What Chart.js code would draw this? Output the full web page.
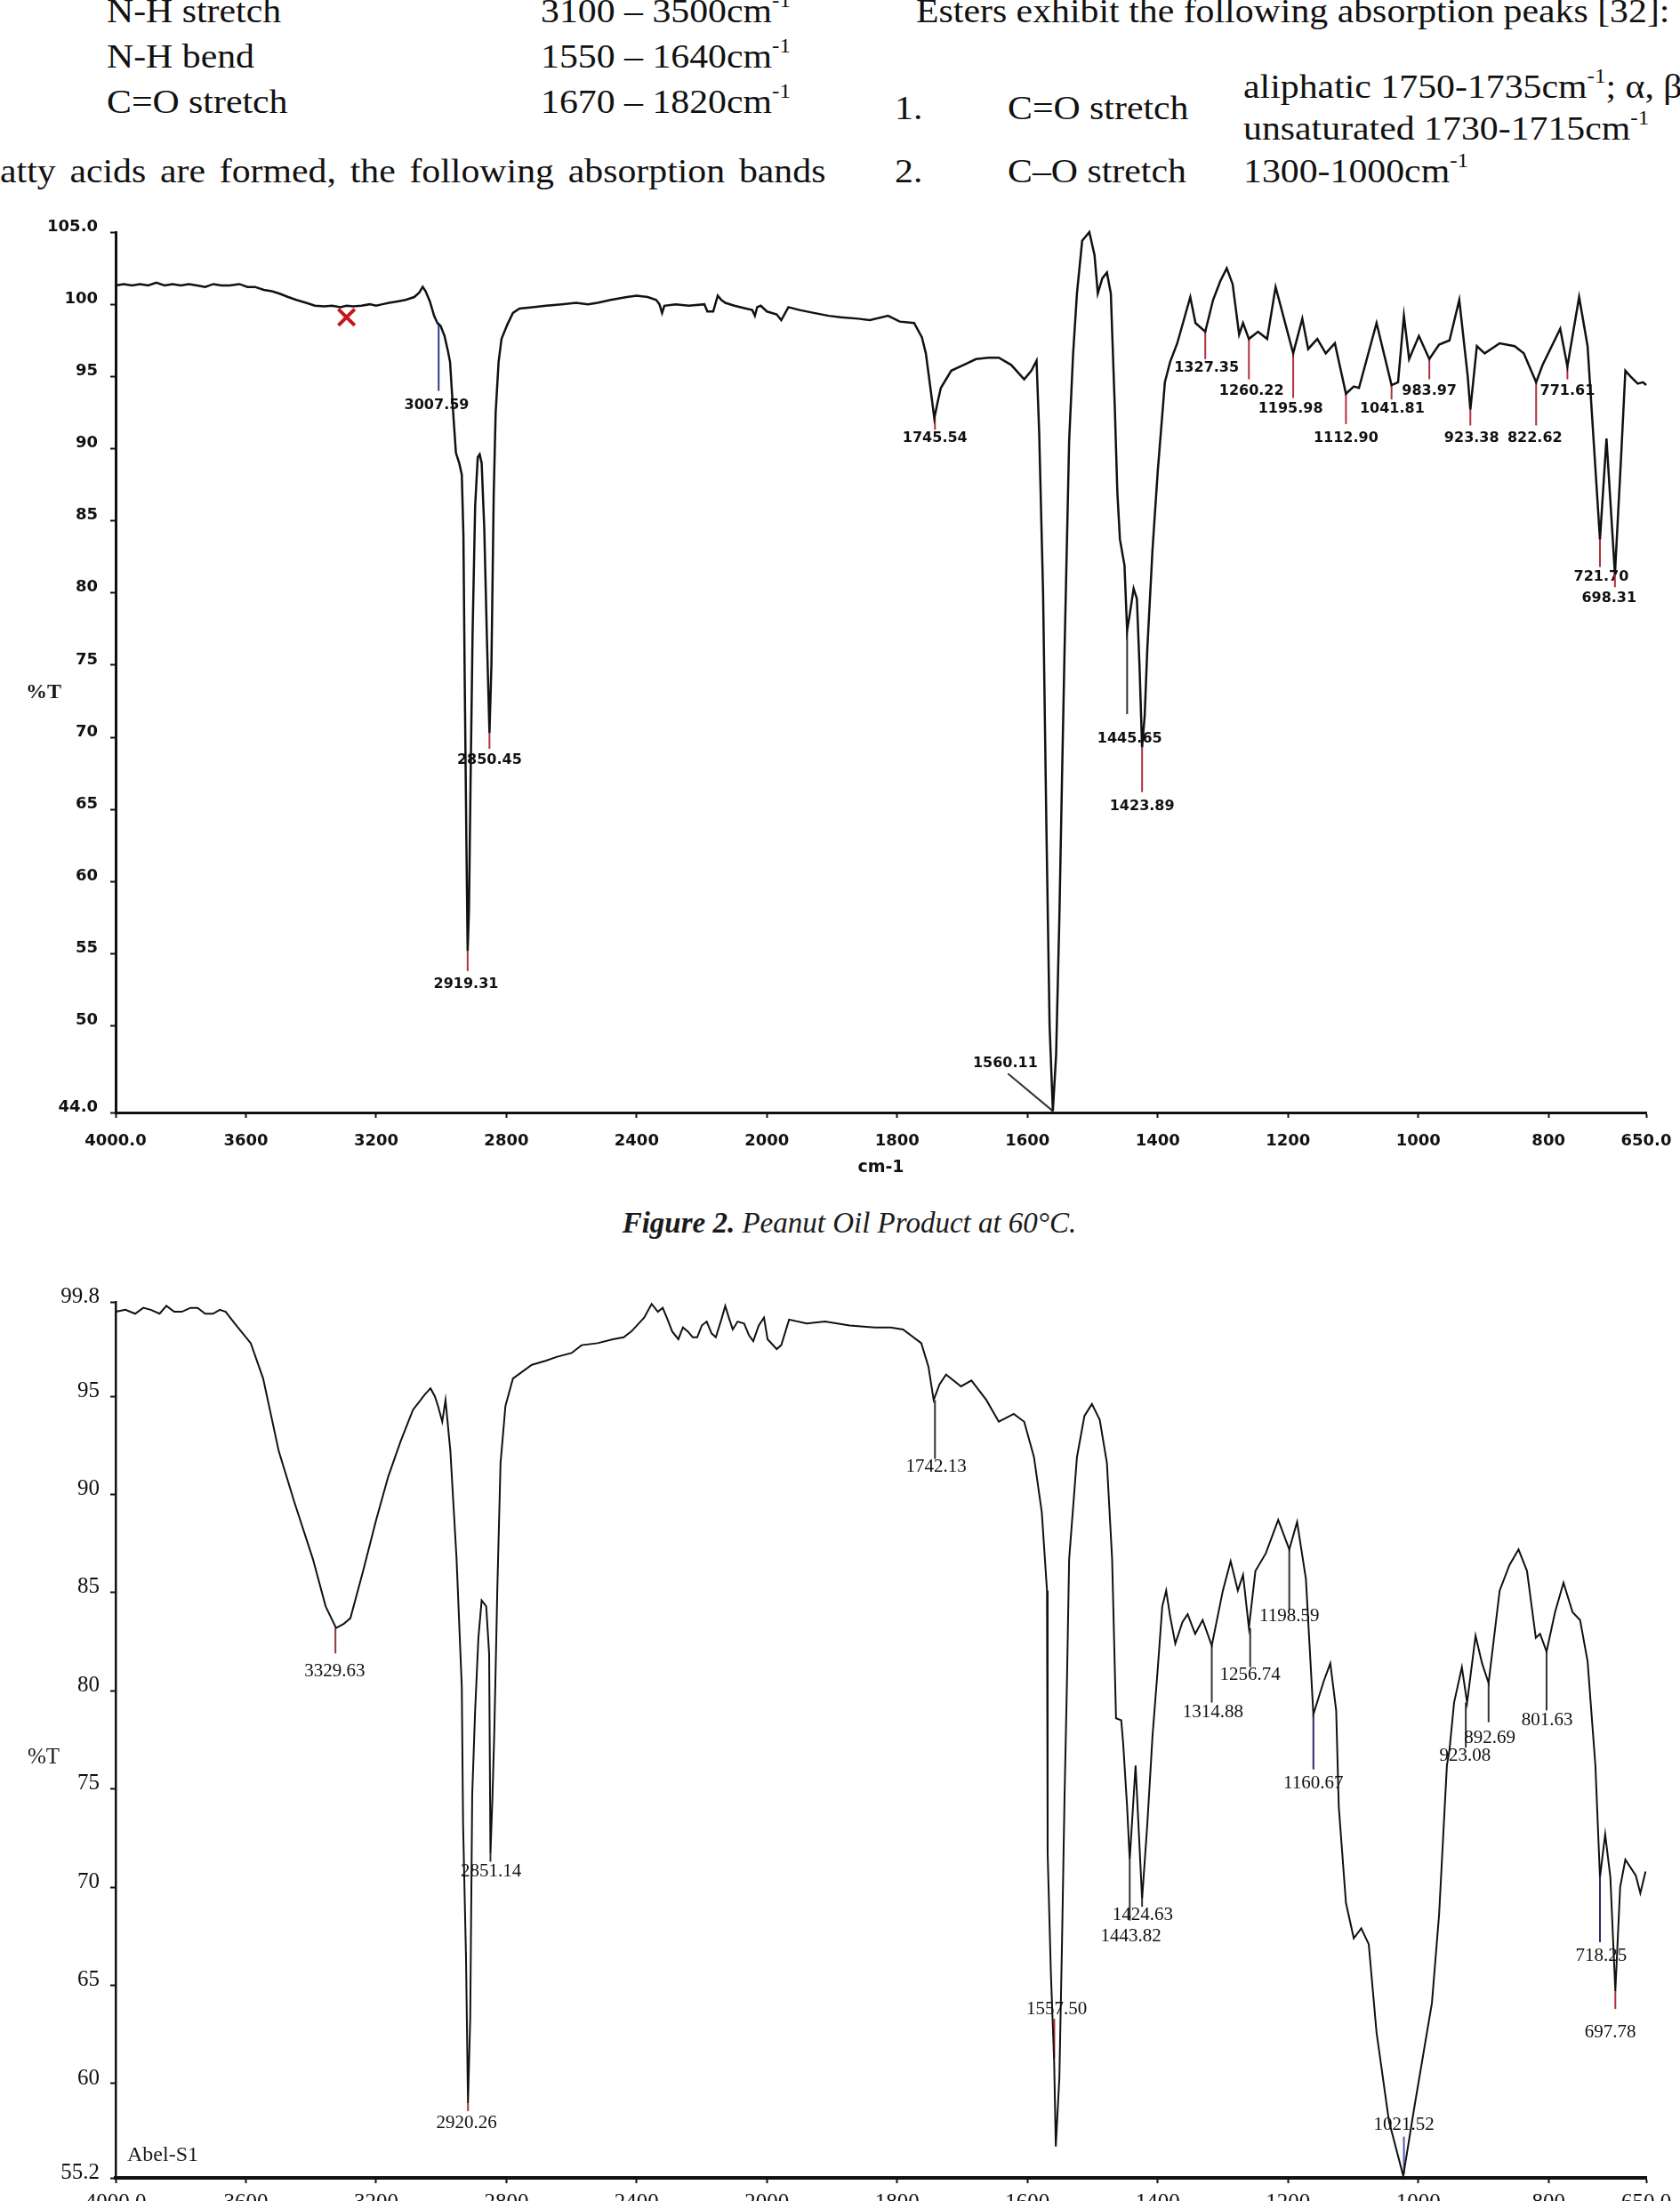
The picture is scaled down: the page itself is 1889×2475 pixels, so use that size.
<!DOCTYPE html>
<html>
<head>
<meta charset="utf-8">
<script src="https://cdn.jsdelivr.net/npm/chart.js@4.4.0/dist/chart.umd.min.js"></script>
<style>
  html, body { margin: 0; padding: 0; background: #fff; }
  #page { position: relative; width: 1889px; height: 2475px; overflow: hidden; background: #fff; }
  .t { position: absolute; font-family: "Liberation Serif", serif; font-size: 38px; line-height: 38px;
       white-space: nowrap; color: #111; transform: scaleX(1.1); transform-origin: 0 0; }
  .t sup { font-size: 0.6em; vertical-align: 0; position: relative; top: -0.75em; line-height: 0; }
  .just { text-align: justify; text-align-last: justify; width: 844px; }
  .lbl { position: absolute; color: #1a1a1a; white-space: nowrap; }
  .wrap { position: absolute; left: 0; width: 1889px; }
</style>
</head>
<body>
<div id="page">
  <!-- running text above the figure -->
  <div class="t" style="left:120px; top:-7px">N-H stretch</div>
  <div class="t" style="left:608px; top:-7px">3100 – 3500cm<sup>-1</sup></div>
  <div class="t" style="left:120px; top:44px">N-H bend</div>
  <div class="t" style="left:608px; top:44px">1550 – 1640cm<sup>-1</sup></div>
  <div class="t" style="left:120px; top:95px">C=O stretch</div>
  <div class="t" style="left:608px; top:95px">1670 – 1820cm<sup>-1</sup></div>
  <div class="t" style="left:1030px; top:-7px">Esters exhibit the following absorption peaks [32]:</div>
  <div class="t" style="left:1398px; top:78px">aliphatic 1750-1735cm<sup>-1</sup>; α, β</div>
  <div class="t" style="left:1398px; top:125px">unsaturated 1730-1715cm<sup>-1</sup></div>
  <div class="t" style="left:1006px; top:102px">1.</div>
  <div class="t" style="left:1133px; top:102px">C=O stretch</div>
  <div class="t just" style="left:0px; top:173px">atty acids are formed, the following absorption bands</div>
  <div class="t" style="left:1006px; top:173px">2.</div>
  <div class="t" style="left:1133px; top:173px">C–O stretch</div>
  <div class="t" style="left:1398px; top:173px">1300-1000cm<sup>-1</sup></div>

  <div class="wrap" style="top:200px; height:1140px"><canvas id="irTop"></canvas></div>
  <div class="lbl" style="left:29px; top:765px; font: bold 24px/24px 'Liberation Serif', serif">%T</div>

  <div class="lbl" style="left:955px; top:1359px; transform: translateX(-50%); font: italic 33px/33px 'Liberation Serif', serif"><b>Figure 2.</b> Peanut Oil Product at 60°C.</div>

  <div class="wrap" style="top:1400px; height:1120px"><canvas id="irBottom"></canvas></div>
  <div class="lbl" style="left:31px; top:1962px; font: 25px/25px 'Liberation Serif', serif">%T</div>
  <div class="lbl" style="left:143px; top:2410px; font: 24px/24px 'Liberation Serif', serif">Abel-S1</div>
</div>

<script>
// axis ticks (wavenumber, cm-1) shared by both spectra
const tickWaves = [4000, 3600, 3200, 2800, 2400, 2000, 1800, 1600, 1400, 1200, 1000, 800, 650];
const tickText = ['4000.0', '3600', '3200', '2800', '2400', '2000', '1800', '1600', '1400', '1200', '1000', '800', '650.0'];

const yTicksTop = [105, 100, 95, 90, 85, 80, 75, 70, 65, 60, 55, 50, 44];
const yTextTop = ['105.0', '100', '95', '90', '85', '80', '75', '70', '65', '60', '55', '50', '44.0'];
const yTicksBottom = [99.8, 95, 90, 85, 80, 75, 70, 65, 60, 55.2];
const yTextBottom = ['99.8', '95', '90', '85', '80', '75', '70', '65', '60', '55.2'];

// peanut oil product at 60C : [wavenumber, %T]
const spectrumTop = [
  [4000,101.3],[3975,101.4],[3950,101.3],[3925,101.4],[3900,101.3],[3875,101.5],[3850,101.3],[3825,101.4],
  [3800,101.3],[3775,101.4],[3750,101.3],[3725,101.2],[3700,101.4],[3675,101.3],[3650,101.3],[3620,101.4],
  [3595,101.2],[3572,101.2],[3545,101.0],[3520,100.9],[3498,100.75],[3470,100.5],[3445,100.3],[3415,100.1],
  [3388,99.9],[3360,99.85],[3335,99.9],[3310,99.8],[3291,99.9],[3270,99.85],[3245,99.9],[3220,100.0],
  [3200,99.9],[3181,100.0],[3160,100.1],[3135,100.2],[3110,100.3],[3083,100.5],[3068,100.8],[3057,101.2],
  [3048,100.9],[3035,100.2],[3022,99.2],[3012,98.7],[3002,98.5],[2990,97.8],[2980,96.8],[2973,96.0],
  [2962,92.0],[2955,89.7],[2945,89.0],[2937,88.2],[2932,84.0],[2928,74.0],[2923,63.0],[2919,55.2],
  [2915,58.0],[2910,67.0],[2904,77.0],[2896,86.0],[2888,89.4],[2882,89.6],[2876,89.0],[2868,84.5],
  [2860,77.0],[2852,70.3],[2846,75.0],[2839,86.8],[2833,92.5],[2824,96.0],[2815,97.6],[2797,98.6],
  [2780,99.4],[2760,99.7],[2720,99.8],[2678,99.9],[2630,100.0],[2586,100.1],[2550,100.0],[2520,100.1],
  [2480,100.3],[2430,100.5],[2400,100.6],[2366,100.5],[2340,100.3],[2330,100.0],[2322,99.4],[2315,99.9],
  [2280,100.0],[2240,99.9],[2192,100.0],[2183,99.5],[2165,99.5],[2151,100.6],[2140,100.3],[2128,100.1],
  [2100,99.9],[2064,99.7],[2045,99.6],[2037,99.2],[2030,99.8],[2019,99.9],[2000,99.5],[1985,99.3],
  [1978,98.9],[1967,99.8],[1950,99.6],[1928,99.4],[1905,99.2],[1887,99.1],[1860,99.0],[1842,98.9],
  [1814,99.2],[1796,98.8],[1774,98.7],[1762,97.7],[1756,96.6],[1749,94.2],[1743,92.1],[1738,93.2],
  [1733,94.2],[1717,95.4],[1698,95.8],[1679,96.2],[1660,96.3],[1644,96.3],[1625,95.8],[1605,94.8],
  [1594,95.4],[1586,96.1],[1582,91.1],[1576,80.0],[1571,64.0],[1566,50.0],[1561,44.1],[1556,48.0],
  [1551,57.5],[1547,67.0],[1543,76.1],[1536,90.5],[1530,96.5],[1524,100.75],[1516,104.4],[1505,105.0],
  [1497,103.4],[1492,100.75],[1485,101.8],[1478,102.2],[1472,100.75],[1466,93.0],[1462,87.0],[1458,83.7],
  [1451,81.9],[1447,77.4],[1443,78.5],[1437,80.3],[1432,79.6],[1428,75.0],[1424,69.3],[1420,71.5],
  [1416,76.1],[1408,83.0],[1400,88.4],[1389,94.6],[1381,96.0],[1370,97.3],[1350,100.5],[1342,98.7],
  [1327,98.1],[1315,100.3],[1304,101.6],[1294,102.5],[1285,101.4],[1275,97.9],[1269,98.7],[1260,97.6],
  [1246,98.1],[1232,97.6],[1219,101.2],[1192,96.6],[1178,99.0],[1169,96.9],[1155,97.6],[1142,96.6],
  [1128,97.3],[1111,93.8],[1099,94.3],[1091,94.2],[1064,98.7],[1041,94.4],[1031,94.6],[1022,99.2],
  [1014,96.2],[999,97.8],[983,96.2],[968,97.2],[952,97.5],[937,100.3],[924,95.0],[920,92.7],
  [910,97.1],[898,96.6],[875,97.3],[852,97.1],[838,96.6],[819,94.6],[809,95.8],[782,98.3],
  [771,95.7],[753,100.5],[740,97.1],[721,83.7],[711,90.7],[698,81.3],[688,89.9],[682,95.4],
  [674,95.0],[663,94.5],[655,94.6],[650,94.4]
];

// Abel-S1 : [wavenumber, %T]
const spectrumBottom = [
  [4000,99.3],[3970,99.4],[3940,99.2],[3915,99.5],[3892,99.4],[3865,99.2],[3844,99.6],[3820,99.3],
  [3797,99.3],[3770,99.5],[3748,99.5],[3725,99.2],[3701,99.2],[3680,99.4],[3662,99.3],[3634,98.7],
  [3585,97.7],[3547,95.9],[3499,92.2],[3451,89.6],[3394,86.7],[3355,84.3],[3323,83.2],[3300,83.4],
  [3279,83.7],[3240,86.1],[3200,88.7],[3163,90.9],[3125,92.7],[3087,94.3],[3050,95.1],[3033,95.4],
  [3020,95.0],[3010,94.5],[2997,93.7],[2987,94.8],[2972,92.2],[2953,86.7],[2937,80.2],[2933,73.2],
  [2924,66.4],[2918,59.0],[2911,63.4],[2905,74.7],[2896,79.0],[2886,82.7],[2876,84.6],[2862,84.3],
  [2853,81.9],[2849,71.7],[2843,74.5],[2837,78.0],[2828,85.1],[2818,91.6],[2803,94.5],[2780,95.9],
  [2722,96.6],[2680,96.8],[2646,97.0],[2600,97.2],[2569,97.6],[2520,97.7],[2473,97.9],[2440,98.0],
  [2416,98.3],[2377,99.0],[2354,99.7],[2335,99.3],[2320,99.5],[2305,98.9],[2291,98.3],[2272,97.9],
  [2258,98.5],[2243,98.3],[2228,98.0],[2214,98.0],[2200,98.6],[2185,98.8],[2170,98.2],[2157,98.0],
  [2140,98.9],[2128,99.6],[2115,98.9],[2105,98.4],[2090,98.8],[2070,98.7],[2055,98.1],[2042,97.8],
  [2025,98.6],[2009,99.0],[1999,97.9],[1985,97.4],[1978,97.6],[1966,98.9],[1939,98.7],[1911,98.8],
  [1873,98.6],[1834,98.5],[1810,98.5],[1791,98.4],[1763,97.7],[1752,96.5],[1744,94.8],[1735,95.6],
  [1725,96.1],[1702,95.5],[1686,95.8],[1663,94.8],[1644,93.7],[1621,94.1],[1605,93.7],[1590,91.9],
  [1578,89.1],[1570,85.1],[1569,71.7],[1564,65.6],[1559,61.1],[1556.5,56.8],[1551,60.3],[1547,67.1],
  [1543,74.7],[1539.5,80.2],[1536,86.7],[1524,91.9],[1512.5,94.0],[1501,94.6],[1489,93.8],[1478,91.6],
  [1470,86.7],[1464,78.6],[1456,78.5],[1453,77.3],[1447,74.1],[1443,71.4],[1434,76.2],[1424,69.4],
  [1416,73.2],[1408,77.7],[1400,81.1],[1393,84.3],[1387,85.1],[1381,83.8],[1373,82.4],[1362,83.5],
  [1354,83.9],[1342.5,82.9],[1331,83.6],[1317,82.3],[1300,85.1],[1288,86.6],[1277,85.1],[1269,85.9],
  [1260,83.2],[1250,86.1],[1234,87.0],[1215,88.7],[1198,87.2],[1186,88.6],[1172.5,85.7],[1161,78.8],
  [1145,80.5],[1135,81.4],[1126,79.0],[1122,74.1],[1111,69.2],[1099,67.4],[1087.5,67.9],[1076,67.1],
  [1064,62.6],[1045,58.1],[1023,55.3],[1006,58.8],[979,64.1],[968,68.6],[956,76.2],[952,77.0],
  [945,79.4],[933,81.2],[925,79.4],[912,82.8],[902,81.4],[892,80.4],[875,85.1],[860,86.4],
  [846,87.2],[833,86.1],[819.5,82.7],[813,82.9],[803,82.0],[790,84.0],[777,85.5],[763,84.0],
  [751.5,83.6],[740,81.5],[728,76.2],[721,70.5],[713,72.7],[705,70.5],[697.4,64.7],[690,70.0],
  [682,71.4],[666,70.6],[659,69.7],[651,70.8]
];

// picked peaks: marker from (w, top) to (tw|w, end), label centred at (lw, lt)
const peaksTop = [
  {text: '3007.59', w: 3008, top: 98.7, end: 94.0, lw: 3014, lt: 93.0},
  {text: '2919.31', w: 2919, top: 55.2, end: 53.8, lw: 2924, lt: 52.9},
  {text: '2850.45', w: 2852, top: 70.3, end: 69.2, lw: 2852, lt: 68.4},
  {text: '1745.54', w: 1742, top: 92.1, end: 91.3, lw: 1742, lt: 90.7},
  {text: '1560.11', w: 1561, top: 44.1, tw: 1630, end: 46.7, lw: 1634, lt: 47.4},
  {text: '1445.65', w: 1447, top: 77.4, end: 71.6, lw: 1443, lt: 69.9},
  {text: '1423.89', w: 1424, top: 69.3, end: 66.2, lw: 1424, lt: 65.2},
  {text: '1327.35', w: 1327, top: 98.1, end: 96.2, lw: 1325, lt: 95.6},
  {text: '1260.22', w: 1260, top: 97.6, end: 94.8, lw: 1256, lt: 94.0},
  {text: '1195.98', w: 1192, top: 96.6, end: 93.5, lw: 1196, lt: 92.75},
  {text: '1112.90', w: 1111, top: 93.8, end: 91.7, lw: 1111, lt: 90.7},
  {text: '1041.81', w: 1041, top: 94.4, end: 93.4, lw: 1040, lt: 92.75},
  {text: '983.97', w: 983, top: 96.2, end: 94.8, lw: 983, lt: 94.0},
  {text: '923.38', w: 920, top: 92.7, end: 91.6, lw: 918, lt: 90.7},
  {text: '822.62', w: 819, top: 94.6, end: 91.6, lw: 821, lt: 90.7},
  {text: '771.61', w: 771, top: 95.7, end: 94.8, lw: 771, lt: 94.0},
  {text: '721.70', w: 721, top: 83.7, end: 81.8, lw: 719, lt: 81.1},
  {text: '698.31', w: 698, top: 81.3, end: 80.4, lw: 707, lt: 79.6}
];
const peaksBottom = [
  {text: '3329.63', w: 3325, top: 83.2, end: 81.9, lw: 3327, lt: 81.0},
  {text: '2920.26', w: 2918, top: 59.0, end: 58.6, lw: 2922, lt: 58.0},
  {text: '2851.14', w: 2849, top: 71.7, end: 71.3, lw: 2847, lt: 70.8},
  {text: '1742.13', w: 1742, top: 94.8, end: 91.8, lw: 1740, lt: 91.4},
  {text: '1557.50', w: 1558.8, top: 63.3, end: 61.3, lw: 1555, lt: 63.8},
  {text: '1443.82', w: 1443, top: 71.4, end: 68.3, lw: 1441, lt: 67.5},
  {text: '1424.63', w: 1424, top: 69.4, end: 69.0, lw: 1423, lt: 68.6},
  {text: '1314.88', w: 1317, top: 82.3, end: 79.4, lw: 1315, lt: 78.9},
  {text: '1256.74', w: 1258, top: 83.2, end: 81.2, lw: 1258, lt: 80.8},
  {text: '1198.59', w: 1198, top: 87.2, end: 84.1, lw: 1198, lt: 83.8},
  {text: '1160.67', w: 1161, top: 78.8, end: 76.0, lw: 1161, lt: 75.3},
  {text: '1021.52', w: 1022, top: 55.4, end: 57.3, lw: 1022, lt: 57.9},
  {text: '923.08', w: 927, top: 79.4, end: 77.1, lw: 928, lt: 76.7},
  {text: '892.69', w: 892, top: 80.4, end: 78.4, lw: 890, lt: 77.6},
  {text: '801.63', w: 803, top: 82.0, end: 79.0, lw: 802, lt: 78.5},
  {text: '718.25', w: 721, top: 70.5, end: 67.2, lw: 719, lt: 66.5},
  {text: '697.78', w: 697.4, top: 64.7, end: 63.8, lw: 705, lt: 62.6}
];

const crossMark = [3291, 99.1];

// marker colours, same order as the peak lists
const RED = '#b3303c', DARK = '#333', NAVY = '#2b3a8f';
const inkTop = [NAVY, RED, RED, RED, DARK, DARK, RED, RED, RED, RED, RED, RED, RED, RED, RED, RED, RED, RED];
const inkBottom = ['#8a3a3a', '#a03838', DARK, DARK, RED, DARK, DARK, DARK, DARK, DARK, '#2a2a66', '#5555b5', DARK, DARK, DARK, '#2a2a70', RED];

// the instrument plots 4000-2000 at half the cm-1 scale of 2000-650
const squeeze = w => (w > 2000 ? 2000 + (w - 2000) / 2 : w);

function peakPlugin(peaks, ink, font) {
  return {
    id: 'peakMarks',
    beforeDatasetsDraw(chart) {
      const {ctx} = chart;
      const x = chart.scales.x, y = chart.scales.y;
      const px = w => x.getPixelForValue(squeeze(w));
      ctx.save();
      ctx.lineWidth = 2;
      peaks.forEach((p, i) => {
        ctx.strokeStyle = ink[i];
        ctx.beginPath();
        ctx.moveTo(px(p.w), y.getPixelForValue(p.top));
        ctx.lineTo(px(p.tw || p.w), y.getPixelForValue(p.end));
        ctx.stroke();
        ctx.fillStyle = '#111';
        ctx.font = font;
        ctx.textAlign = 'center';
        ctx.textBaseline = 'middle';
        ctx.fillText(p.text, px(p.lw), y.getPixelForValue(p.lt));
      });
      ctx.restore();
    }
  };
}

function spectrumChart(id, o) {
  const axisInk = '#111';
  return new Chart(document.getElementById(id), {
    type: 'line',
    data: {
      datasets: [{
        data: o.spectrum.map(([w, t]) => ({x: squeeze(w), y: t})),
        borderColor: '#111',
        borderWidth: o.lineWidth,
        pointRadius: 0,
        tension: 0,
        clip: 6
      }].concat(o.extra || [])
    },
    options: {
      responsive: true,
      maintainAspectRatio: false,
      animation: false,
      events: [],
      layout: {padding: {top: o.padTop, right: 38, left: 0, bottom: 0}},
      plugins: {legend: {display: false}, tooltip: {enabled: false}},
      scales: {
        x: {
          type: 'linear',
          reverse: true,
          min: 650,
          max: 3000,
          afterBuildTicks: s => { s.ticks = tickWaves.map(w => ({value: squeeze(w)})); },
          afterFit: s => { s.height = o.xHeight; s.paddingLeft = 0; s.paddingRight = 0; },
          ticks: {
            autoSkip: false, maxRotation: 0, minRotation: 0,
            padding: o.xPad, color: '#111', font: o.tickFont,
            callback: (v, i) => tickText[i]
          },
          grid: {drawOnChartArea: false, tickLength: 6, tickWidth: 2, tickColor: axisInk},
          border: {color: axisInk, width: o.xAxisWidth},
          title: o.xTitle || {display: false}
        },
        y: {
          type: 'linear',
          min: o.yMin,
          max: o.yMax,
          afterBuildTicks: s => { s.ticks = o.yTicks.map(v => ({value: v})); },
          afterFit: s => { s.width = 130; s.paddingTop = 0; s.paddingBottom = 0; },
          ticks: {
            autoSkip: false, padding: o.yPad, labelOffset: -6,
            color: '#111', font: o.tickFont,
            callback: (v, i) => o.yText[i]
          },
          grid: {drawOnChartArea: false, tickLength: 6, tickWidth: 2, tickColor: axisInk},
          border: {color: axisInk, width: o.yAxisWidth}
        }
      }
    },
    plugins: [peakPlugin(o.peaks, o.ink, o.peakFont)]
  });
}

spectrumChart('irTop', {
  spectrum: spectrumTop,
  lineWidth: 2.5,
  padTop: 61, xHeight: 89, xPad: 16, yPad: 14,
  xAxisWidth: 3, yAxisWidth: 3,
  yMin: 44, yMax: 105, yTicks: yTicksTop, yText: yTextTop,
  tickFont: {family: 'DejaVu Sans', size: 18, weight: 'bold'},
  xTitle: {display: true, text: 'cm-1', color: '#111',
           font: {family: 'DejaVu Sans', size: 19, weight: 'bold'}, padding: {top: 0, bottom: 16}},
  peaks: peaksTop, ink: inkTop, peakFont: 'bold 16px "DejaVu Sans"',
  extra: [{
    data: [{x: squeeze(crossMark[0]), y: crossMark[1]}],
    showLine: false,
    pointStyle: 'crossRot',
    pointRadius: 13,
    pointBorderWidth: 4,
    pointBorderColor: '#c4161c',
    pointBackgroundColor: '#c4161c'
  }]
});

spectrumChart('irBottom', {
  spectrum: spectrumBottom,
  lineWidth: 2,
  padTop: 64, xHeight: 71, xPad: 7, yPad: 12,
  xAxisWidth: 4, yAxisWidth: 2.5,
  yMin: 55.2, yMax: 99.8, yTicks: yTicksBottom, yText: yTextBottom,
  tickFont: {family: 'Liberation Serif', size: 25},
  peaks: peaksBottom, ink: inkBottom, peakFont: '21px "Liberation Serif"'
});
</script>
</body>
</html>
